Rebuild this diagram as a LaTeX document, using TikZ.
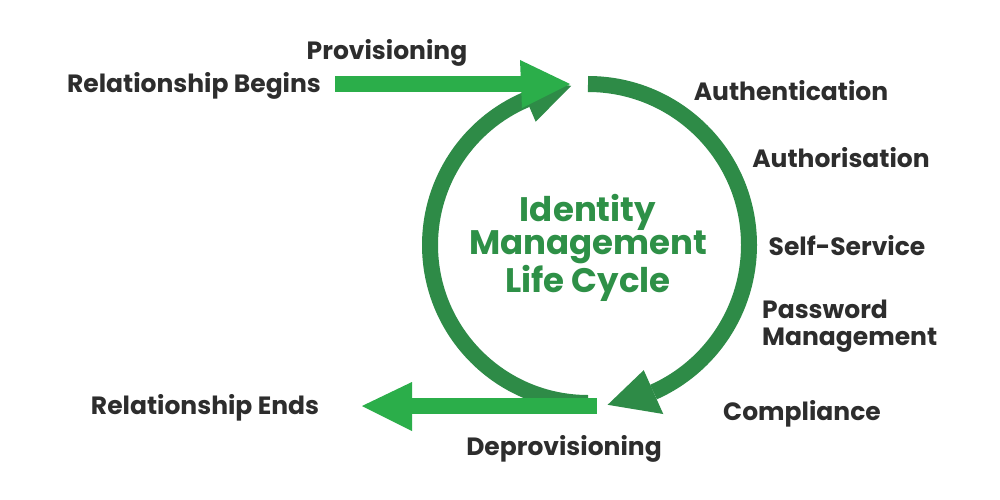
\documentclass[tikz,border=0pt]{standalone}
\usepackage{fontspec}
\setmainfont{Poppins}
\usetikzlibrary{calc}
\definecolor{lg}{RGB}{43,174,74}
\definecolor{dg}{RGB}{46,139,71}
\definecolor{tx}{RGB}{45,45,45}
\begin{document}
\begin{tikzpicture}[x=1pt,y=-1pt,
  lab/.style={text=tx,font=\fontsize{25}{27}\selectfont\bfseries,inner sep=0pt},
  ttl/.style={text=dg!85!lg,font=\fontsize{34}{33}\selectfont\bfseries,align=center}]
\useasboundingbox[fill=white] (0,0) rectangle (1000,500);
\coordinate (c) at (588,245);
% right arc
\draw[dg,line width=16pt] ($(c)+(-90:161)$) arc[start angle=-90,end angle=66,radius=161];
\fill[dg] ($(c)+(66:137)$) -- ($(c)+(66:185)$) -- ($(c)+(83:161)$) -- cycle;
% left arc
\draw[dg,line width=16pt] ($(c)+(90:158)$) arc[start angle=90,end angle=247,radius=158];
\fill[dg] ($(c)+(247:134)$) -- ($(c)+(247:182)$) -- ($(c)+(264:160)$) -- cycle;
% top horizontal arrow
\fill[lg] (335,76) rectangle (522,92);
\fill[lg] (520,60) -- (570,84) -- (522,108) -- cycle;
% bottom horizontal arrow
\fill[lg] (597,398) rectangle (410,414);
\fill[lg] (412,382) -- (362,406) -- (412,431) -- cycle;
% texts
\node[ttl] (t) at (588,248) {Identity\\Management\\Life Cycle};
\node[lab] (p) at (387,53) {Provisioning};
\node[lab] (rb) at (194,86) {Relationship Begins};
\node[lab] (au) at (791,91) {Authentication};
\node[lab] (az) at (841,158) {Authorisation};
\node[lab] (ss) at (847,246) {Self-Service};
\node[lab,anchor=west,align=left] (pm) at (762,326) {Password\\Management};
\node[lab] (co) at (802,414) {Compliance};
\node[lab] (re) at (205,408) {Relationship Ends};
\node[lab] (dp) at (564,449) {Deprovisioning};
\end{tikzpicture}
\end{document}
